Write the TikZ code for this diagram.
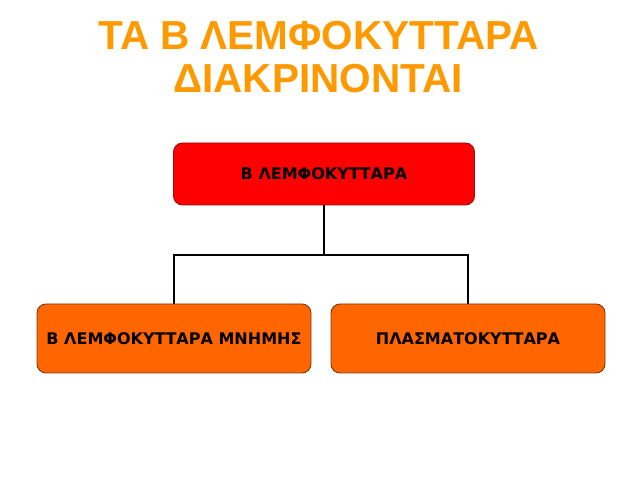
\documentclass[tikz,border=0pt]{standalone}
\usepackage{fontspec}
\setmainfont{Liberation Sans}
\newfontfamily\boxfont{DejaVu Sans}
\definecolor{titleorange}{HTML}{FF9900}
\definecolor{boxred}{HTML}{FF0000}
\definecolor{boxredline}{HTML}{9A1010}
\definecolor{boxorange}{HTML}{FF6600}
\definecolor{boxorangeline}{HTML}{7A3A10}
\begin{document}
\begin{tikzpicture}[x=1pt,y=1pt,
  titletext/.style={anchor=base, inner sep=0pt, text=titleorange, font=\fontsize{40.5}{40.5}\selectfont\bfseries},
  boxbase/.style={rectangle, rounded corners=9pt, inner sep=0pt, line width=0.9pt,
    font=\boxfont\fontsize{16}{16}\selectfont\bfseries, text=black},
  topbox/.style={boxbase, fill=boxred, draw=boxredline, minimum width=301pt, minimum height=62pt},
  lowbox/.style={boxbase, fill=boxorange, draw=boxorangeline, minimum width=274pt, minimum height=69pt},
  link/.style={draw=black, line width=1.6pt}
]
\useasboundingbox (0,0) rectangle (638,-478);
\node[titletext] (t1) at (318.5,-50) {ΤΑ Β ΛΕΜΦΟΚΥΤΤΑΡΑ};
\node[titletext] (t2) at (318,-93) {ΔΙΑΚΡΙΝΟΝΤΑΙ};
\node[topbox] (top) at (324,-174) {Β ΛΕΜΦΟΚΥΤΤΑΡΑ};
\node[lowbox] (left) at (174,-338.5) {Β ΛΕΜΦΟΚΥΤΤΑΡΑ ΜΝΗΜΗΣ};
\node[lowbox] (right) at (468,-338.5) {ΠΛΑΣΜΑΤΟΚΥΤΤΑΡΑ};
\coordinate (mid) at (324,-255);
\draw[link] (top.south) -- (mid);
\draw[link] (left.north) |- (mid) -| (right.north);
\end{tikzpicture}
\end{document}
